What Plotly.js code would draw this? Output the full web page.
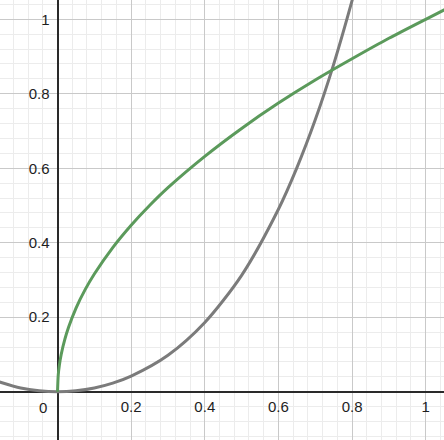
<!DOCTYPE html>
<html><head><meta charset="utf-8">
<script src="https://cdn.plot.ly/plotly-3.0.1.min.js"></script>
<style>html,body{margin:0;padding:0;background:#fff}#c{width:444px;height:440px}</style>
</head><body><div id="c"></div>
<script>
// Values
const greenX = [0, 0.002, 0.005, 0.01, 0.02, 0.03, 0.05, 0.075, 0.1, 0.15, 0.2, 0.25, 0.3, 0.4, 0.5, 0.6, 0.7, 0.8, 0.9, 1.0, 1.06];
const greenY = [0, 0.045, 0.071, 0.1, 0.141, 0.173, 0.224, 0.274, 0.316, 0.387, 0.447, 0.5, 0.548, 0.632, 0.707, 0.775, 0.837, 0.894, 0.949, 1.0, 1.03];
const grayX = [-0.17, -0.1, -0.05, 0, 0.05, 0.1, 0.15, 0.2, 0.3, 0.4, 0.5, 0.6, 0.65, 0.7, 0.75, 0.8, 0.82];
const grayY = [0.030, 0.010, 0.0025, 0, 0.0025, 0.010, 0.023, 0.042, 0.098, 0.186, 0.3125, 0.49, 0.601, 0.73, 0.879, 1.05, 1.125];
const xTickVals = [0.2, 0.4, 0.6, 0.8, 1];
const xTickText = ['0.2', '0.4', '0.6', '0.8', '1'];
const yTickVals = [0.2, 0.4, 0.6, 0.8, 1];
const yTickText = ['0.2', '0.4', '0.6', '0.8', '1'];
const originLabel = '0';

const xRange = [-0.1562, 1.0497];
const yRange = [-0.1297, 1.0518];
const font = {family: 'Liberation Sans, Arial, sans-serif', size: 15, color: '#1e1e1e'};

const traces = [
  {x: grayX, y: grayY, mode: 'lines', line: {color: '#7b7b7b', width: 3, shape: 'spline', smoothing: 0.8}, hoverinfo: 'skip'},
  {x: greenX, y: greenY, mode: 'lines', line: {color: '#5b9a5b', width: 3, shape: 'spline', smoothing: 0.8}, hoverinfo: 'skip'}
];

const layout = {
  width: 444, height: 440,
  margin: {l: 0, r: 0, t: 0, b: 0},
  paper_bgcolor: '#fff', plot_bgcolor: '#fff',
  showlegend: false,
  xaxis: {
    range: xRange, anchor: 'free',
    position: (0 - yRange[0]) / (yRange[1] - yRange[0]),
    tickvals: xTickVals, ticktext: xTickText, ticks: '', showline: false,
    tickfont: font, ticklabelstandoff: 4,
    showgrid: true, gridcolor: '#c9c9c9', gridwidth: 1,
    zeroline: true, zerolinecolor: '#2a2a2a', zerolinewidth: 2,
    minor: {dtick: 0.04, tick0: 0, showgrid: true, gridcolor: '#ececec', gridwidth: 1},
    fixedrange: true
  },
  yaxis: {
    range: yRange, anchor: 'free',
    position: (0 - xRange[0]) / (xRange[1] - xRange[0]),
    tickvals: yTickVals, ticktext: yTickText, ticks: '', showline: false,
    tickfont: font, ticklabelstandoff: 8,
    showgrid: true, gridcolor: '#c9c9c9', gridwidth: 1,
    zeroline: true, zerolinecolor: '#2a2a2a', zerolinewidth: 2,
    minor: {dtick: 0.04, tick0: 0, showgrid: true, gridcolor: '#ececec', gridwidth: 1},
    fixedrange: true
  },
  annotations: [{
    x: 0, y: 0, xref: 'x', yref: 'y', text: originLabel, showarrow: false,
    xanchor: 'right', yanchor: 'top', xshift: -9, yshift: -5, font: font
  }]
};
Plotly.newPlot('c', traces, layout, {displayModeBar: false, staticPlot: true});
</script></body></html>
